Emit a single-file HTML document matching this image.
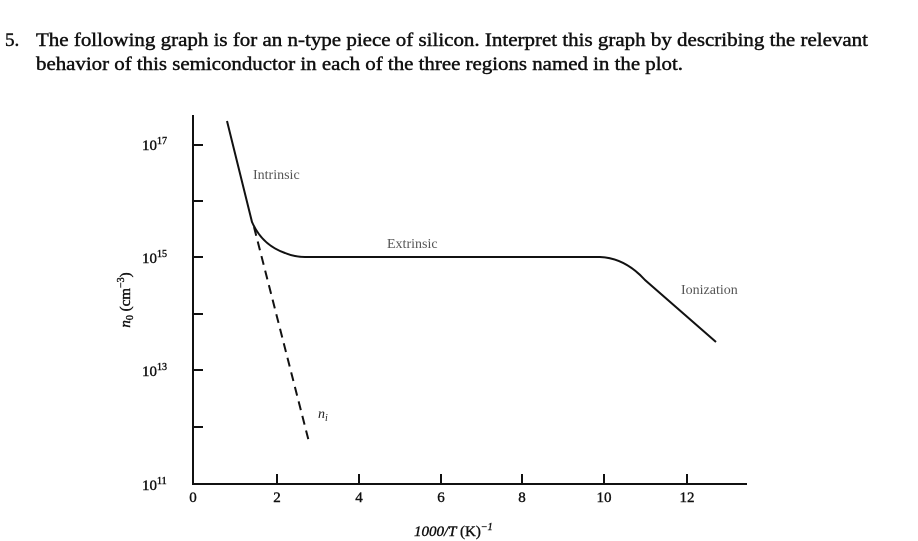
<!DOCTYPE html>
<html><head><style>
html,body{margin:0;padding:0;background:#fff;}
svg{display:block;}
</style></head><body>
<svg width="918" height="541" viewBox="0 0 918 541" xmlns="http://www.w3.org/2000/svg" font-family="Liberation Serif, serif">
<rect width="918" height="541" fill="#fff"/>
<g fill="#111" stroke="#111" stroke-width="0.45">
<text x="5" y="46" font-size="19">5.</text>
<text x="36" y="46" font-size="19" textLength="832" lengthAdjust="spacingAndGlyphs">The following graph is for an n-type piece of silicon.  Interpret this graph by describing the relevant</text>
<text x="36" y="70" font-size="19" textLength="647" lengthAdjust="spacingAndGlyphs">behavior of this semiconductor in each of the three regions named in the plot.</text>
</g>

<g stroke="#111" stroke-width="2" fill="none">
<line x1="193" y1="115" x2="193" y2="485"/>
<line x1="192" y1="484" x2="747" y2="484"/>
<line x1="193" y1="145" x2="203" y2="145"/>
<line x1="193" y1="201" x2="203" y2="201"/>
<line x1="193" y1="257" x2="203" y2="257"/>
<line x1="193" y1="314" x2="203" y2="314"/>
<line x1="193" y1="370" x2="203" y2="370"/>
<line x1="193" y1="427" x2="203" y2="427"/>
<line x1="277" y1="474" x2="277" y2="484"/>
<line x1="359" y1="474" x2="359" y2="484"/>
<line x1="441" y1="474" x2="441" y2="484"/>
<line x1="522" y1="474" x2="522" y2="484"/>
<line x1="604" y1="474" x2="604" y2="484"/>
<line x1="687" y1="474" x2="687" y2="484"/>
<path d="M227 121 L252 222 Q262 245 285 253 Q295 257 305 257 L600 257 Q625 258 645 280 L716 342"/>
<line x1="254" y1="227" x2="309" y2="442" stroke-dasharray="9,6"/>
</g>

<g font-size="15" fill="#111" stroke="#111" stroke-width="0.4">
<text x="142" y="150">10<tspan font-size="10" dy="-6">17</tspan></text>
<text x="142" y="263">10<tspan font-size="10" dy="-6">15</tspan></text>
<text x="142" y="376">10<tspan font-size="10" dy="-6">13</tspan></text>
<text x="142" y="490">10<tspan font-size="10" dy="-6">11</tspan></text>
<text x="193" y="502" text-anchor="middle">0</text>
<text x="277" y="502" text-anchor="middle">2</text>
<text x="359" y="502" text-anchor="middle">4</text>
<text x="441" y="502" text-anchor="middle">6</text>
<text x="522" y="502" text-anchor="middle">8</text>
<text x="604" y="502" text-anchor="middle">10</text>
<text x="687" y="502" text-anchor="middle">12</text>
<text x="414" y="536" font-style="italic">1000/<tspan>T</tspan> <tspan font-style="normal">(K)</tspan><tspan font-size="10" dy="-6">−1</tspan></text>
<text transform="translate(130,300) rotate(-90)" text-anchor="middle"><tspan font-style="italic">n</tspan><tspan font-size="10" dy="3">0</tspan><tspan dy="-3"> (cm</tspan><tspan font-size="10" dy="-6">−3</tspan><tspan dy="6">)</tspan></text>
</g>
<g font-size="14" fill="#555">
<text x="253" y="179">Intrinsic</text>
<text x="387" y="248">Extrinsic</text>
<text x="681" y="294">Ionization</text>
<text x="318" y="418" font-style="italic" fill="#222">n<tspan font-size="10" dy="3">i</tspan></text>
</g>
</svg>
</body></html>
